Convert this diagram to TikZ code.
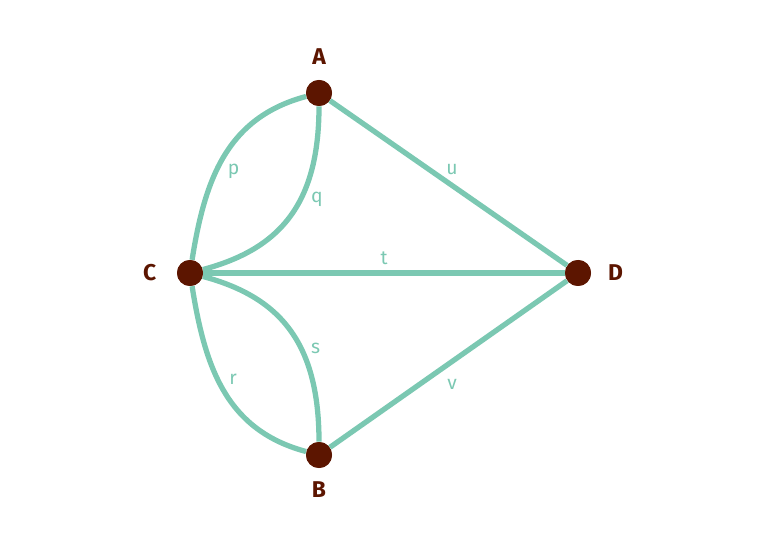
\documentclass[tikz,border=0pt]{standalone}
\usepackage{fontspec}
\setsansfont{Fira Sans}
\usetikzlibrary{positioning}
\definecolor{bridgegreen}{HTML}{7BC8B2}
\definecolor{islandbrown}{HTML}{5C1500}
\tikzset{
  land/.style={circle,fill=islandbrown,minimum size=0.52cm,inner sep=0pt},
  landname/.style={text=islandbrown,font=\sffamily\bfseries\fontsize{13}{15}\selectfont},
  bridge/.style={draw=bridgegreen,line width=3pt},
  bridgename/.style={text=bridgegreen,font=\sffamily\fontsize{11}{13}\selectfont}
}

\begin{document}
\begin{tikzpicture}
    \useasboundingbox (0,0) rectangle (15.36,10.88);
    \node (A) at (6.38,9.02) [land,label={[landname,label distance=5pt]above:A}] {};
    \node (C) at (3.80,5.42) [land,label={[landname,label distance=8pt]left:C}]  {};
    \node (D) at (11.56,5.42) [land,label={[landname,label distance=6pt]right:D}] {};
    \node (B) at (6.38,1.78) [land,label={[landname,label distance=4pt]below:B}] {};
    \draw[bridge] (C) to[out=81,in=-165,looseness=1.05] node[bridgename,pos=0.41,right=2pt]{p} (A);
    \draw[bridge] (C) to[out=15,in=-90,in looseness=1.27] node[bridgename,pos=0.61,right=1pt]{q} (A);
    \draw[bridge] (C) to[out=-81,in=165,looseness=1.05] node[bridgename,pos=0.43,right=2pt]{r} (B);
    \draw[bridge] (C) to[out=-15,in=90,in looseness=1.27] node[bridgename,pos=0.61,right=1pt]{s} (B);
    \draw[bridge] (C) --node[bridgename,above]{t} (D);
    \draw[bridge] (A) --node[bridgename,above=0pt,xshift=2pt]{u} (D);
    \draw[bridge] (B) --node[bridgename,below=4pt,xshift=2pt]{v} (D);
    % islands on top of the bridges
    \foreach \n in {A,B,C,D}
        \fill[islandbrown] (\n) circle (0.26);
\end{tikzpicture}
\end{document}
